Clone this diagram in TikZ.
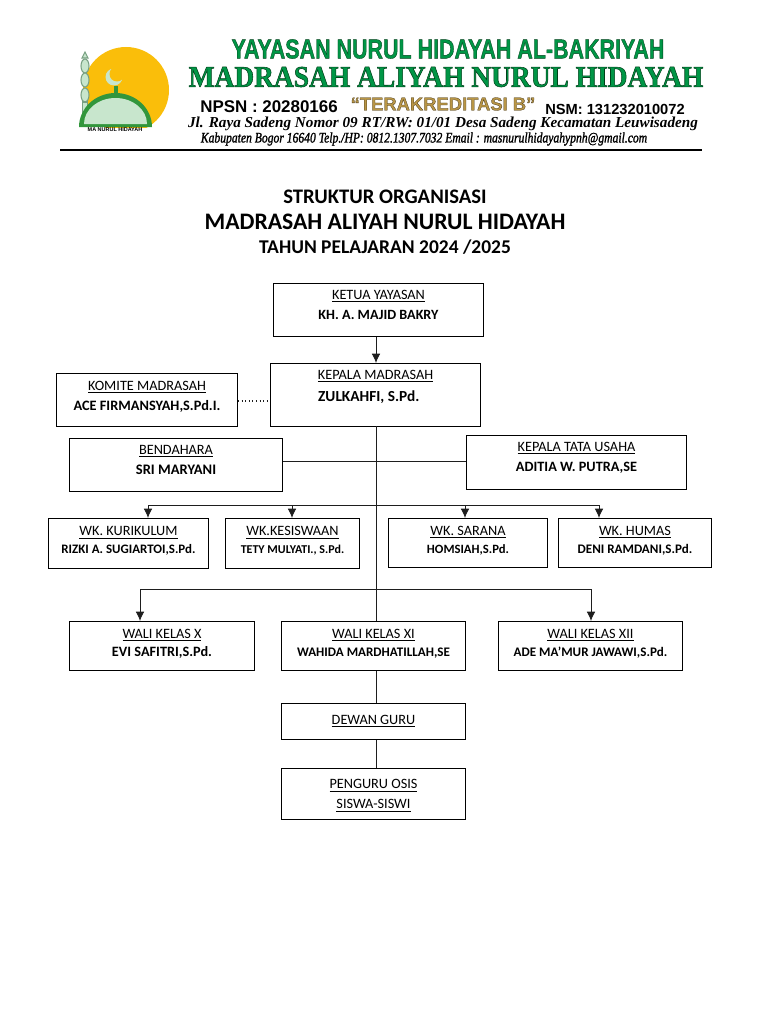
\documentclass[tikz,border=0pt]{standalone}
\usepackage{fontspec}
\setmainfont{Carlito}
\newfontfamily\headsans{Liberation Sans}
\newfontfamily\headnarrow[FakeStretch=0.785]{Liberation Sans}
\newfontfamily\headserif[FakeStretch=0.915]{Liberation Serif}
\newfontfamily\addrserif{Liberation Serif}
\newfontfamily\mailserif[FakeStretch=0.8]{Liberation Serif}
\usetikzlibrary{arrows.meta}
\definecolor{headgreen}{RGB}{0,150,70}
\definecolor{logoyellow}{RGB}{250,190,10}
\definecolor{domegreen}{RGB}{50,150,60}
\definecolor{domelight}{RGB}{200,230,205}
\definecolor{towerline}{RGB}{120,160,130}
\definecolor{akredgold}{RGB}{185,150,70}
\definecolor{linegray}{RGB}{30,30,30}
\newcommand{\outlined}[3]{\special{pdf:code q 2 Tr #1 w #2 RG}#3\special{pdf:code Q}}
\newcommand{\boxtext}[5]{\raisebox{#1pt}[0pt][0pt]{\begin{tabular}{@{}c@{}}\underline{#3}\\[#2pt]\fontsize{#4}{12}\selectfont\bfseries #5\end{tabular}}}
\tikzset{
	orgbox/.style 2 args={draw=black, line width=0.75pt, anchor=north west, inner sep=0pt,
		minimum width=#1*0.75pt, minimum height=#2*0.75pt, font=\fontsize{10.7}{12}\selectfont},
	link/.style={draw=linegray, line width=0.7pt},
	linkarrow/.style={link, -{Latex[length=7pt,width=6.5pt]}},
	headline/.style={inner sep=0pt, anchor=center}
}
\begin{document}
\begin{tikzpicture}[x=0.75pt,y=-0.75pt]
	\useasboundingbox (0,0) rectangle (768,1024);
	% letterhead
	\begin{scope}
		\clip (80,40) rectangle (175,127);
		\fill[logoyellow] (126,90) circle (43);
	\end{scope}
	\foreach \y in {66,80,95} \draw[towerline, fill=domelight, line width=0.8pt] (85,\y) ellipse (4 and 7);
	\draw[towerline, fill=domelight, line width=0.8pt] (82,58) -- (85,52) -- (88,58) -- cycle;
	\draw[towerline, fill=domelight, line width=0.8pt] (82.5,102) rectangle (87.5,112);
	\fill[domegreen] (79,127) arc (180:360:36.5 and 34) -- cycle;
	\fill[domelight] (84,124) arc (180:360:31.5 and 26) -- cycle;
	\fill[domegreen] (113.5,94) rectangle (118,86);
	\fill[domelight] (114,77) circle (8.5);
	\fill[logoyellow] (117,74) circle (7.5);
	\node[headline, font=\fontsize{4.1}{5}\headsans\bfseries] (logotext) at (115,130) {MA NURUL HIDAYAH};
	\node[headline, font=\fontsize{20.5}{22}\headnarrow\bfseries, text=headgreen] (yayasan) at (448,49) {\outlined{0.25}{0 0.25 0.1}{YAYASAN NURUL HIDAYAH AL-BAKRIYAH}};
	\node[headline, font=\fontsize{22.5}{24}\headserif\bfseries, text=headgreen] (madrasah) at (446,77) {\outlined{0.4}{0 0.25 0.1}{MADRASAH ALIYAH NURUL HIDAYAH}};
	\node[headline, font=\fontsize{12.7}{14}\headsans\bfseries] (npsn) at (269,107) {NPSN : 20280166};
	\node[headline, font=\fontsize{13.8}{15}\headsans\bfseries, text=akredgold] (akreditasi) at (443,104) {\outlined{0.2}{0.25 0.2 0.1}{“TERAKREDITASI B”}};
	\node[headline, font=\fontsize{11}{14}\headsans\bfseries] (nsm) at (615,109) {NSM: 131232010072};
	\node[headline, font=\fontsize{11.4}{12}\addrserif\bfseries\itshape] (alamat) at (443,124) {Jl. Raya Sadeng Nomor 09 RT/RW: 01/01 Desa Sadeng Kecamatan Leuwisadeng};
	\node[headline, font=\fontsize{10.9}{12}\mailserif\itshape] (kontak) at (424,139) {\outlined{0.15}{0 0 0}{Kabupaten Bogor 16640 Telp./HP: 0812.1307.7032 Email : masnurulhidayahypnh@gmail.com}};
	\coordinate (ruleleft) at (60,150);
	\coordinate (ruleright) at (702,150);
	\draw[line width=1.6pt] (ruleleft) -- (ruleright);
	% judul
	\node[headline, font=\fontsize{15.5}{17}\bfseries] (judula) at (385,197) {STRUKTUR ORGANISASI};
	\node[headline, font=\fontsize{17.75}{19}\bfseries] (judulb) at (385,222) {MADRASAH ALIYAH NURUL HIDAYAH};
	\node[headline, font=\fontsize{14.6}{16}\bfseries] (judulc) at (385,247) {TAHUN PELAJARAN 2024 /2025};
	% kotak
	\node[orgbox={210}{53}] (ketua) at (273,283) {\boxtext{0}{3}{KETUA YAYASAN}{10.6}{KH. A. MAJID BAKRY}};
	\node[orgbox={210}{63}] (kepala) at (270,363) {\boxtext{3.2}{4.5}{KEPALA MADRASAH}{11.5}{\mbox{ZULKAHFI, S.Pd.\hspace{10pt}}}};
	\node[orgbox={181}{53}] (komite) at (56,373) {\boxtext{-0.8}{3}{KOMITE MADRASAH}{10.75}{ACE FIRMANSYAH,S.Pd.I.}};
	\node[orgbox={213}{53}] (bendahara) at (69,438) {\boxtext{0}{3}{BENDAHARA}{10.9}{SRI MARYANI}};
	\node[orgbox={220}{54}] (tatausaha) at (466,435) {\boxtext{0.2}{3}{KEPALA TATA USAHA}{10.7}{ADITIA W. PUTRA,SE}};
	\node[orgbox={160}{50}] (kurikulum) at (48,518) {\boxtext{-1.3}{1.5}{WK. KURIKULUM}{9.7}{RIZKI A. SUGIARTOI,S.Pd.}};
	\node[orgbox={134}{50}] (kesiswaan) at (225,518) {\boxtext{-1.3}{1.5}{WK.KESISWAAN}{9}{TETY MULYATI., S.Pd.}};
	\node[orgbox={159}{49}] (sarana) at (388,518) {\boxtext{-1.3}{1.5}{WK. SARANA}{9.5}{HOMSIAH,S.Pd.}};
	\node[orgbox={153}{49}] (humas) at (558,518) {\boxtext{-1.3}{1.5}{WK. HUMAS}{9.8}{DENI RAMDANI,S.Pd.}};
	\node[orgbox={185}{49}] (walix) at (69,621) {\boxtext{-1.3}{1.5}{WALI KELAS X}{10.7}{EVI SAFITRI,S.Pd.}};
	\node[orgbox={184}{49}] (walixi) at (281,621) {\boxtext{-1.3}{1.5}{WALI KELAS XI}{9.8}{WAHIDA MARDHATILLAH,SE}};
	\node[orgbox={184}{49}] (walixii) at (498,621) {\boxtext{-1.3}{1.5}{WALI KELAS XII}{9.8}{ADE MA'MUR JAWAWI,S.Pd.}};
	\node[orgbox={184}{36}] (dewan) at (281,703) {\underline{DEWAN GURU}};
	\node[orgbox={184}{51}] (osis) at (281,768) {\raisebox{-4pt}[0pt][0pt]{\begin{tabular}{@{}c@{}}\underline{PENGURU OSIS}\\[3pt]\underline{SISWA-SISWI}\end{tabular}}};
	% garis
	\coordinate (trunktop) at (376,426);
	\coordinate (trunkend) at (376,621);
	\coordinate (wkbus) at (376,505);
	\coordinate (walibus) at (376,589);
	\draw[linkarrow] (ketua.south -| trunktop) -- (kepala.north -| trunktop);
	\draw[link, dotted, line width=1pt] (komite.east |- 0,401) -- (kepala.west |- 0,401);
	\draw[link] (trunktop) -- (trunkend);
	\draw[link] (bendahara.east |- 0,461) -- (tatausaha.west |- 0,461);
	\foreach \t/\x in {kurikulum/148,kesiswaan/292,sarana/465,humas/599}
		\draw[linkarrow] (wkbus) -| (\t.north -| \x,0);
	\foreach \t/\x in {walix/140,walixii/591}
		\draw[linkarrow] (walibus) -| (\t.north -| \x,0);
	\draw[link] (walixi.south -| trunkend) -- (dewan.north -| trunkend);
	\draw[link] (dewan.south -| trunkend) -- (osis.north -| trunkend);
\end{tikzpicture}
\end{document}
